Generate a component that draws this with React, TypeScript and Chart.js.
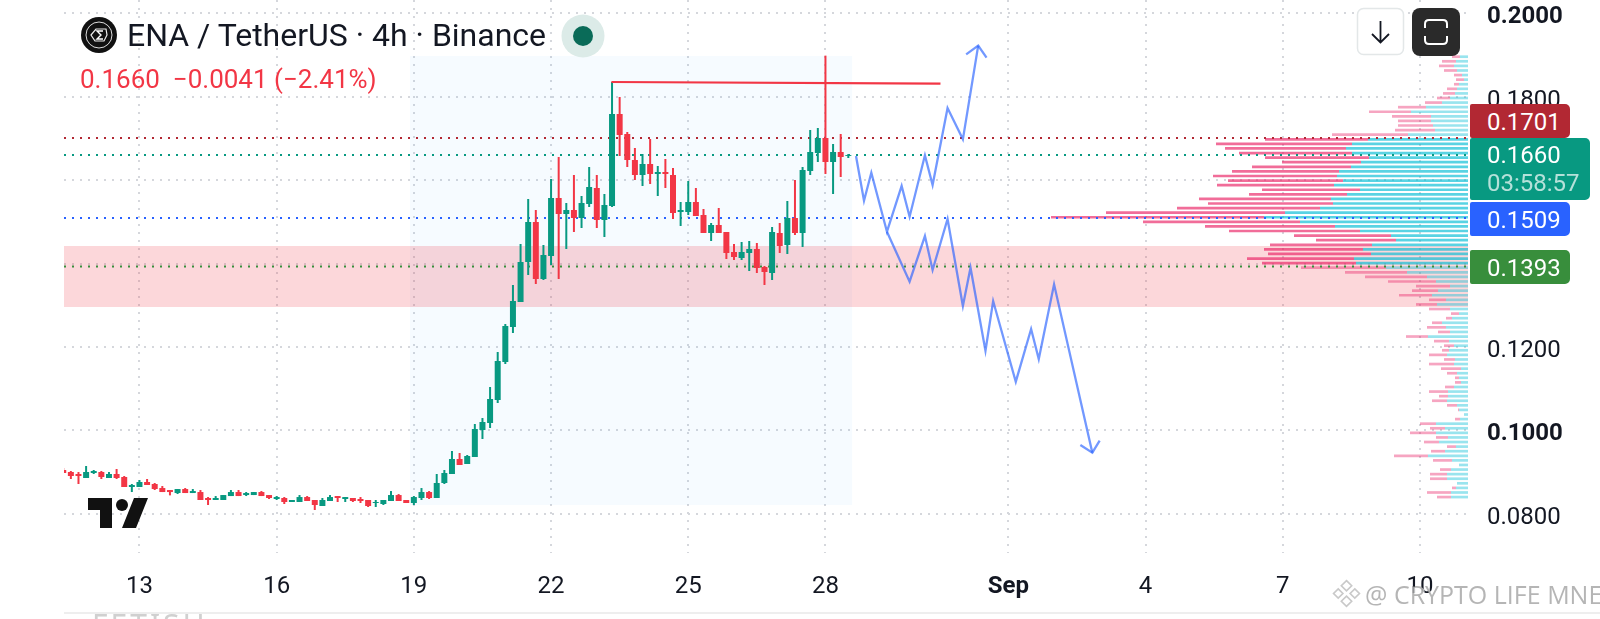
import React, { useEffect, useRef } from "react";
import { Chart, registerables } from "chart.js";

Chart.register(...registerables);

// 4h candles, Aug 11 08:00 onward
const firstCandleDay = 13 - 10 / 6;
const candleStepDays = 1 / 6;
const opens = [.09048,.09,.08952,.08856,.08976,.09,.08856,.08952,.0888,.0864,.0864,.0876,.08712,.08616,.08568,.08496,.08592,.08496,.0852,.08377,.08329,.08329,.08424,.0852,.08448,.08448,.0852,.08448,.08353,.08377,.08281,.08281,.084,.08329,.08185,.08305,.08424,.08353,.08377,.08353,.08329,.08257,.08233,.08305,.08448,.08329,.08257,.08377,.0852,.08377,.08736,.08952,.09312,.09192,.0936,.10007,.10175,.10727,.11638,.12477,.13077,.14036,.14996,.13629,.1418,.15571,.15187,.15283,.15091,.15427,.15811,.15043,.15379,.17586,.17106,.16482,.16123,.16387,.16147,.16195,.16123,.15235,.15235,.15475,.15163,.14732,.14924,.14756,.14276,.14132,.14252,.14348,.13916,.13772,.14732,.14444,.15091,.14732,.16219,.1665,.1701,.16434,.16674,.16578];
const highs = [.09096,.09024,.09,.09144,.09048,.09024,.09,.09072,.08904,.08712,.08808,.08832,.08736,.08664,.08568,.08592,.08616,.08592,.08568,.084,.08424,.08448,.08568,.08568,.0852,.0852,.08544,.08448,.08424,.084,.08329,.08448,.08424,.08329,.08377,.08448,.08424,.084,.08377,.084,.08329,.08329,.08329,.08544,.08472,.08329,.08424,.08616,.08544,.08952,.09048,.09504,.09456,.09408,.10151,.10295,.11039,.11878,.12549,.13485,.14468,.15547,.15283,.14444,.16027,.16554,.15451,.16123,.15619,.16314,.16123,.15667,.18353,.17993,.17154,.1677,.16626,.16986,.16339,.16506,.1629,.15475,.15979,.15811,.15307,.14972,.15331,.14756,.14468,.14516,.1454,.14492,.1394,.14876,.14972,.15499,.16003,.16314,.17202,.1725,.18985,.16866,.17106,.16626];
const lows = [.08976,.08832,.08712,.08856,.08952,.08832,.08856,.08832,.0864,.0852,.0864,.08688,.08568,.0852,.0844,.08472,.08496,.08496,.08329,.08209,.08329,.08329,.08424,.08424,.08424,.08448,.08424,.08353,.08329,.08233,.08281,.08281,.08305,.08089,.08185,.08305,.08281,.08281,.08281,.08257,.08161,.08161,.08209,.08305,.08305,.08257,.08209,.08329,.08353,.08377,.08712,.08952,.09168,.09192,.0936,.09791,.10055,.10655,.1159,.12334,.13077,.13725,.13509,.13604,.13964,.13629,.14348,.14756,.14851,.15355,.14851,.14636,.15355,.16578,.16314,.16003,.15859,.15907,.15619,.15811,.15067,.149,.15163,.15139,.14732,.1454,.14732,.14108,.14084,.14084,.1382,.13772,.13485,.13604,.14252,.14228,.14684,.14396,.16123,.16434,.16147,.15667,.16075,.1653];
const closes = [.08976,.08904,.08904,.09,.09024,.0888,.08952,.08856,.0864,.08688,.0876,.08688,.08592,.0852,.0852,.08592,.08496,.08544,.08329,.08329,.08377,.08448,.0852,.08424,.08496,.0852,.08424,.08377,.084,.08281,.08329,.084,.08305,.08209,.08329,.084,.08377,.084,.08305,.08305,.08185,.08281,.08329,.08448,.08305,.08257,.084,.0852,.08377,.08736,.08976,.09312,.09168,.09384,.10031,.10199,.10751,.11662,.12501,.13101,.14036,.14996,.13629,.14204,.15571,.15187,.15283,.15091,.15451,.15835,.15043,.15403,.17586,.17082,.16482,.16123,.16387,.16147,.16195,.16147,.15211,.15283,.15475,.15139,.14732,.14924,.14732,.14252,.14156,.14276,.14348,.13892,.13796,.14756,.1442,.15091,.14732,.16243,.16674,.1701,.16434,.16674,.16554,.166];

// price axis
const priceTicks = [0.2, 0.18, 0.16, 0.14, 0.12, 0.1, 0.08];
const boldPrices = [0.2, 0.1];
// time axis: day of August (Sep 1 = 32)
const dayTicks = [13, 16, 19, 22, 25, 28, 32, 35, 38, 41];
const dayLabels = ["13", "16", "19", "22", "25", "28", "Sep", "4", "7", "10"];

// horizontal price levels
const levelRed = 0.1701;
const levelLast = 0.166;
const levelBlue = 0.1509;
const levelGreen = 0.1393;

// drawn forecast paths
const forecastUpDays = [28.668, 28.843, 29.003, 29.345, 29.666, 29.84, 30.175, 30.343, 30.67, 31.005, 31.34];
const forecastUpPrices = [.16578, .15507, .16178, .14763, .15859, .15123, .16594, .15883, .17729, .16978, .19224];
const arrowUpDays = [31.077, 31.34, 31.522];
const arrowUpPrices = [.19016, .19224, .18936];
const forecastDownDays = [29.345, 29.84, 30.175, 30.343, 30.67, 31.005, 31.172, 31.499, 31.667, 32.162, 32.497, 32.664, 32.999, 33.836];
const forecastDownPrices = [.14763, .13564, .14659, .13844, .15067, .12981, .139, .1191, .131, .11166, .12429, .1171, .135, .09464];
const arrowDownDays = [33.574, 33.836, 33.996];
const arrowDownPrices = [.09647, .09464, .09751];
const resistanceDays = [23.32, 30.515];
const resistancePrices = [.18353, .18312];

// shaded zones
const rangeBoxDays = [18.915, 28.59];
const rangeBoxPrices = [.18976, .08209];
const bandDays = [11.35, 42.05];
const bandPrices = [.14419, .1296];

// volume profile rows, top row down
const vpTopPrice = 0.18959;
const vpRowStep = 0.0011;
const vpValueAreaRows = [18, 45];
const vpTotal = [16,26,29,24,14,12,14,21,25,31,43,70,99,76,70,70,73,136,203,252,243,229,203,186,216,236,255,240,251,206,219,269,260,291,362,417,325,263,239,174,152,198,204,200,221,206,167,123,103,80,52,56,69,39,52,39,17,22,36,41,30,62,34,24,26,39,24,39,27,21,13,13,23,39,29,36,21,10,4,13,48,38,58,32,44,21,37,74,35,9,28,38,38,11,16,41,31];
const vpCyan = [8,12,14,11,6,4,9,11,13,18,26,42,57,37,37,35,33,60,100,116,122,116,99,107,117,129,131,125,134,108,121,137,135,148,183,204,168,133,108,77,72,96,105,97,114,112,82,61,41,32,18,30,36,22,31,18,9,16,26,22,18,40,19,14,19,21,13,14,7,11,9,7,14,20,20,21,11,9,4,8,32,23,32,20,29,12,23,40,16,9,17,21,21,11,12,17,17];
const vpAxisMax = 1404;

const GREEN = "#089981";
const RED = "#f23645";
const FONT = "Roboto";
const DRAWN_BLUE = "rgba(41,98,255,0.66)";

function App() {
  const ref = useRef<HTMLCanvasElement>(null);

  useEffect(() => {
    const days = opens.map((_, i) => firstCandleDay + i * candleStepDays);
    const up = opens.map((o, i) => closes[i] >= o);
    const colors = up.map((u) => (u ? GREEN : RED));
    const pairs = (xs: number[], ys: number[]) => xs.map((x, i) => ({ x, y: ys[i] }));
    const line = (data: any[], color: string, width: number, order: number, dash?: number[]) => ({
      type: "line",
      data,
      borderColor: color,
      borderWidth: width,
      borderDash: dash || [],
      pointRadius: 0,
      tension: 0,
      fill: false,
      order,
      xAxisID: "x",
      yAxisID: "y",
    });
    const zone = (xs: number[], ys: number[], color: string, order: number) => ({
      type: "line",
      data: [{ x: xs[0], y: ys[0] }, { x: xs[1], y: ys[0] }],
      borderWidth: 0,
      borderColor: "transparent",
      backgroundColor: color,
      pointRadius: 0,
      fill: { value: ys[1] },
      order,
      xAxisID: "x",
      yAxisID: "y",
    });
    const level = (v: number, color: string, order: number) =>
      line([{ x: bandDays[0], y: v }, { x: bandDays[1], y: v }], color, 2, order, [2, 6]);

    const vpPrices = vpTotal.map((_, i) => vpTopPrice - i * vpRowStep);
    const inVA = (i: number) => i >= vpValueAreaRows[0] && i <= vpValueAreaRows[1];
    const vpBar = (data: any[], inner: string, outer: string) => ({
      type: "bar",
      indexAxis: "y",
      data,
      backgroundColor: data.map((_, i) => (inVA(i) ? inner : outer)),
      barThickness: 2.7,
      grouped: false,
      inflateAmount: 0,
      borderWidth: 0,
      order: 8,
      xAxisID: "xVP",
      yAxisID: "y",
    });

    const chart = new Chart(ref.current as HTMLCanvasElement, {
      type: "bar",
      data: {
        datasets: [
          zone(rangeBoxDays, rangeBoxPrices, "rgba(33,150,243,0.04)", 12),
          zone(bandDays, bandPrices, "rgba(242,54,69,0.2)", 11),
          vpBar(vpPrices.map((y, i) => ({ x: [0, vpCyan[i]], y })), "rgba(0,188,212,0.65)", "rgba(0,188,212,0.4)"),
          vpBar(vpPrices.map((y, i) => ({ x: [vpCyan[i], vpTotal[i]], y })), "rgba(233,30,99,0.65)", "rgba(233,30,99,0.4)"),
          level(levelRed, "#b22833", 7),
          level(levelLast, GREEN, 7),
          level(levelBlue, "#2962ff", 7),
          level(levelGreen, "#388e3c", 7),
          {
            type: "bar",
            data: days.map((x, i) => ({ x, y: [lows[i], highs[i]] })),
            backgroundColor: colors,
            barThickness: 2,
            grouped: false,
            inflateAmount: 0,
            borderWidth: 0,
            order: 5,
            xAxisID: "x",
            yAxisID: "y",
          },
          {
            type: "bar",
            data: days.map((x, i) => ({ x, y: [opens[i], closes[i]] })),
            backgroundColor: colors,
            barThickness: 6,
            grouped: false,
            inflateAmount: 0,
            borderWidth: 0,
            order: 4,
            xAxisID: "x",
            yAxisID: "y",
          },
          line(pairs(resistanceDays, resistancePrices), RED, 2.2, 3),
          line(pairs(forecastUpDays, forecastUpPrices), DRAWN_BLUE, 2.3, 2),
          line(pairs(arrowUpDays, arrowUpPrices), DRAWN_BLUE, 2.3, 2),
          line(pairs(forecastDownDays, forecastDownPrices), DRAWN_BLUE, 2.3, 2),
          line(pairs(arrowDownDays, arrowDownPrices), DRAWN_BLUE, 2.3, 2),
        ] as any,
      },
      options: {
        responsive: false,
        animation: false,
        devicePixelRatio: 1,
        events: [],
        layout: { padding: { left: 64, right: 0, top: 0, bottom: 0 } },
        plugins: { legend: { display: false }, tooltip: { enabled: false }, title: { display: false } },
        scales: {
          x: {
            type: "linear",
            position: "bottom",
            offset: false,
            min: 11.35,
            max: 42.05,
            border: { display: false, dash: [2, 6] },
            grid: { offset: false, color: "#d5d7dc", lineWidth: 2, drawTicks: false },
            afterBuildTicks: (s: any) => {
              s.ticks = dayTicks.map((value) => ({ value }));
            },
            afterFit: (s: any) => {
              s.height = 66;
              s.paddingLeft = 0;
              s.paddingRight = 0;
            },
            ticks: {
              autoSkip: false,
              maxRotation: 0,
              padding: 20,
              color: "#131722",
              font: (c: any) => ({ family: FONT, size: 24, weight: c.tick && c.tick.value === 32 ? "bold" : "normal" }),
              callback: (v: any) => dayLabels[dayTicks.indexOf(v)],
            },
          },
          xVP: {
            type: "linear",
            axis: "x",
            position: "bottom",
            display: false,
            offset: false,
            reverse: true,
            min: 0,
            max: vpAxisMax,
            grid: { display: false, offset: false },
          },
          y: {
            type: "linear",
            position: "right",
            offset: false,
            min: 0.07058,
            max: 0.20319,
            border: { display: false, dash: [2, 6] },
            grid: { offset: false, color: "#d5d7dc", lineWidth: 2, drawTicks: false },
            afterBuildTicks: (s: any) => {
              s.ticks = priceTicks.map((value) => ({ value }));
            },
            afterFit: (s: any) => {
              s.width = 132;
              s.paddingTop = 0;
              s.paddingBottom = 0;
            },
            ticks: {
              autoSkip: false,
              padding: 19,
              labelOffset: 4,
              color: "#131722",
              font: (c: any) => ({
                family: FONT,
                size: 24,
                weight: c.tick && boldPrices.some((p) => Math.abs(p - c.tick.value) < 1e-6) ? "bold" : "normal",
              }),
              callback: (v: any) => Number(v).toFixed(4),
            },
          },
        },
      } as any,
    });
    return () => chart.destroy();
  }, []);

  const tag = (top: number, height: number, width: number, bg: string, textTop: number, text: string) => (
    <div
      style={{
        position: "absolute",
        left: 1470,
        top,
        width,
        height,
        background: bg,
        borderRadius: "2px 5px 5px 2px",
        color: "#fff",
        font: `24px/${height}px ${FONT}`,
        paddingLeft: 17,
        paddingTop: textTop,
        boxSizing: "border-box",
      }}
    >
      <div style={{ height: height - textTop, overflow: "visible" }}>{text}</div>
    </div>
  );

  return (
    <div style={{ position: "fixed", left: 0, top: 0, width: 1600, height: 619, background: "#fff", overflow: "hidden" }}>
      <canvas ref={ref} width={1600} height={619} style={{ position: "absolute", left: 0, top: 0, display: "block" }} />

      {/* symbol icon */}
      <svg style={{ position: "absolute", left: 81, top: 17 }} width={36} height={36} viewBox="0 0 36 36">
        <circle cx={18} cy={18} r={18} fill="#111" />
        <circle cx={18} cy={18} r={13} fill="none" stroke="#ddd" strokeWidth={1} />
        <path d="M10 18 L15 12 H25 L26 18 L23 24 H14 Z" fill="none" stroke="#eee" strokeWidth={1.2} />
        <path d="M22 14 H16 L20 18 L16 22 H22" fill="none" stroke="#fff" strokeWidth={1.4} />
      </svg>
      <div style={{ position: "absolute", left: 127, top: 17, font: `32px/36px ${FONT}`, color: "#131722", whiteSpace: "nowrap" }}>
        ENA / TetherUS · 4h · Binance
      </div>
      <svg style={{ position: "absolute", left: 561, top: 14 }} width={44} height={44}>
        <circle cx={22} cy={22} r={21.5} fill="#dcebe8" />
        <circle cx={22} cy={22} r={10} fill="#0a6b58" />
      </svg>
      <div style={{ position: "absolute", left: 80, top: 63, font: `26px/32px ${FONT}`, color: RED, whiteSpace: "pre" }}>
        {"0.1660  −0.0041 (−2.41%)"}
      </div>

      {/* buttons */}
      <svg style={{ position: "absolute", left: 1356, top: 7 }} width={106} height={50}>
        <rect x={1.5} y={1.5} width={46} height={46} rx={6} fill="#fff" stroke="#e3e7e8" strokeWidth={1.5} />
        <path d="M24.5 14 V35 M16 27 L24.5 35.5 L33 27" fill="none" stroke="#131722" strokeWidth={1.8} />
        <rect x={56} y={1} width={48} height={48} rx={8} fill="#2a2a2a" />
        <path
          d="M69 21 V17 Q69 13 73 13 H87 Q91 13 91 17 V21 M69 29 V33 Q69 37 73 37 H87 Q91 37 91 33 V29"
          fill="none"
          stroke="#fff"
          strokeWidth={2}
        />
      </svg>

      {/* TradingView mark */}
      <svg style={{ position: "absolute", left: 60, top: 480 }} width={130} height={60} viewBox="0 0 390 180">
        <path d="M84 54 H156 V144 H120 V90 H84 Z M222 54 H264 L228 144 H186 Z" fill="#111" />
        <circle cx={186} cy={75} r={18} fill="#111" />
      </svg>

      {/* price tags */}
      {tag(104, 33.5, 100, "#b22833", 2, "0.1701")}
      <div
        style={{
          position: "absolute",
          left: 1470,
          top: 138,
          width: 120,
          height: 62,
          background: GREEN,
          borderRadius: "2px 5px 5px 2px",
          color: "#fff",
          paddingLeft: 17,
          boxSizing: "border-box",
          font: `24px/28px ${FONT}`,
        }}
      >
        <div style={{ marginTop: 3 }}>0.1660</div>
        <div style={{ color: "rgba(255,255,255,0.7)" }}>03:58:57</div>
      </div>
      {tag(202, 34, 100, "#2962ff", 1, "0.1509")}
      {tag(250, 34, 100, "#388e3c", 1, "0.1393")}

      {/* footer */}
      <div style={{ position: "absolute", left: 64, right: 0, top: 612, height: 2, background: "#eeeeee" }} />
      <div style={{ position: "absolute", left: 92, top: 614, height: 5, overflow: "hidden", color: "#d0d0d0", font: `30px/22px "Noto Sans"`, letterSpacing: 3 }}>
        FETISH
      </div>
      <svg style={{ position: "absolute", left: 1332, top: 579 }} width={29} height={29} viewBox="0 0 28 28">
        <g fill="none" stroke="#c9c9c9" strokeWidth={1.6}>
          <path d="M14 1.5 L19 6.5 L14 11.5 L9 6.5 Z" />
          <path d="M6 9.5 L10.5 14 L6 18.5 L1.5 14 Z" />
          <path d="M22 9.5 L26.5 14 L22 18.5 L17.5 14 Z" />
          <path d="M14 16.5 L19 21.5 L14 26.5 L9 21.5 Z" />
        </g>
      </svg>
      <div
        style={{
          position: "absolute",
          left: 1365,
          top: 578,
          font: `25px/32px "Open Sans"`,
          color: "rgba(120,120,120,0.55)",
          textShadow: "1px 1px 0 rgba(255,255,255,0.8)",
          whiteSpace: "nowrap",
        }}
      >
        @ CRYPTO LIFE MNE
      </div>
    </div>
  );
}

export default App;
